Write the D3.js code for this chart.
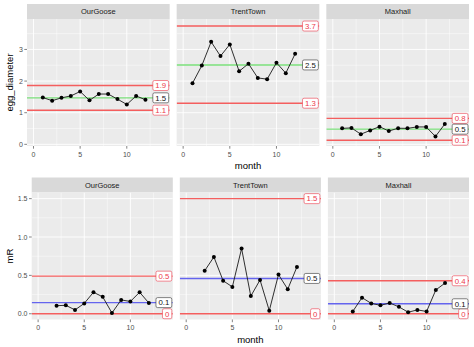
<!DOCTYPE html>
<html>
<head>
<meta charset="utf-8">
<script src="https://cdn.jsdelivr.net/npm/d3@7"></script>
<style>
  body { margin: 0; background: #fff; }
  svg { display: block; }
  text { font-family: "Liberation Sans", Arial, sans-serif; }
</style>
</head>
<body>
<svg id="chart" width="474" height="347"></svg>
<script>
// ---- data ----
const facets = ["OurGoose", "TrentTown", "Maxhall"];
const monthsI = [1, 2, 3, 4, 5, 6, 7, 8, 9, 10, 11, 12];
const monthsMR = [2, 3, 4, 5, 6, 7, 8, 9, 10, 11, 12];
const xTicks = [0, 5, 10];

// individual egg diameters per month
const eggOurGoose = [1.48, 1.38, 1.47, 1.53, 1.67, 1.39, 1.59, 1.59, 1.43, 1.26, 1.53, 1.41];
const eggTrentTown = [1.93, 2.49, 3.24, 2.79, 3.16, 2.31, 2.55, 2.10, 2.06, 2.58, 2.25, 2.86];
const eggMaxhall = [0.505, 0.52, 0.32, 0.44, 0.56, 0.42, 0.51, 0.505, 0.55, 0.55, 0.25, 0.64];
const eggCenter = [1.47, 2.51, 0.48];
const eggUCL = [1.86, 3.74, 0.82];
const eggLCL = [1.08, 1.30, 0.13];
const eggTicks = [0, 1, 2, 3];

// moving ranges per month
const mrOurGoose = [0.105, 0.11, 0.05, 0.135, 0.28, 0.22, 0.01, 0.18, 0.16, 0.28, 0.14];
const mrTrentTown = [0.56, 0.74, 0.43, 0.35, 0.85, 0.23, 0.44, 0.04, 0.51, 0.32, 0.61];
const mrMaxhall = [0.03, 0.21, 0.135, 0.11, 0.14, 0.09, 0.02, 0.05, 0.03, 0.31, 0.40];
const mrCenter = [0.145, 0.46, 0.13];
const mrUCL = [0.49, 1.50, 0.43];
const mrLCL = [0, 0, 0];
const mrTicks = [0, 0.5, 1.0, 1.5];

// ---- layout / style ----
const gap = 7;
const stripH = 15;
const panelH = 127;
const limitColor = "#F45E5E";
const limitText = "#EC3A4C";

const rows = [
  {
    top: 0, panelLeft: 27, panelRight: 469,
    series: [eggOurGoose, eggTrentTown, eggMaxhall], months: monthsI,
    center: eggCenter, ucl: eggUCL, lcl: eggLCL,
    centerColor: "#7ADF7A", yDomain: [-0.0525, 3.9625],
    yTicks: eggTicks, yMinor: [0.5, 1.5, 2.5, 3.5],
    yFmt: d3.format("d"), yTitle: "egg_diameter"
  },
  {
    top: 173.5, panelLeft: 31.7, panelRight: 469,
    series: [mrOurGoose, mrTrentTown, mrMaxhall], months: monthsMR,
    center: mrCenter, ucl: mrUCL, lcl: mrLCL,
    centerColor: "#6464EE", yDomain: [-0.075, 1.58],
    yTicks: mrTicks, yMinor: [0.25, 0.75, 1.25],
    yFmt: d3.format(".1f"), yTitle: "mR"
  }
];
const xMinor = [2.5, 7.5, 12.5];

// R-style rounding to one decimal, without trailing zeros
const labelFmt = v => String(Math.round(v * 10) / 10);

const svg = d3.select("#chart");

rows.forEach((row, ri) => {
  const panelW = (row.panelRight - row.panelLeft - 2 * gap) / 3;
  const stripTop = row.top + 4;
  const panelTop = stripTop + stripH;
  const panelBottom = panelTop + panelH;

  const y = d3.scaleLinear().domain(row.yDomain).range([panelBottom, panelTop]);

  facets.forEach((name, fi) => {
    const left = row.panelLeft + fi * (panelW + gap);
    const right = left + panelW;
    const x = d3.scaleLinear().domain([-0.695, 14.595]).range([left, right]);

    const g = svg.append("g").attr("class", "facet");

    // strip
    g.append("rect").attr("class", "strip")
      .attr("x", left).attr("y", stripTop).attr("width", panelW).attr("height", stripH)
      .attr("fill", "#D9D9D9");
    g.append("text").attr("class", "strip-label")
      .attr("x", (left + right) / 2).attr("y", stripTop + stripH / 2 + 2.7)
      .attr("text-anchor", "middle").attr("font-size", 7.5).attr("fill", "#1A1A1A").text(name);

    // panel background and grid
    const clipId = `clip-${ri}-${fi}`;
    svg.append("clipPath").attr("id", clipId).append("rect")
      .attr("x", left).attr("y", panelTop).attr("width", panelW).attr("height", panelH);
    g.append("rect").attr("class", "panel")
      .attr("x", left).attr("y", panelTop).attr("width", panelW).attr("height", panelH)
      .attr("fill", "#EBEBEB");
    const pg = g.append("g").attr("clip-path", `url(#${clipId})`);
    pg.selectAll("line.ymin").data(row.yMinor).join("line").attr("class", "ymin")
      .attr("x1", left).attr("x2", right).attr("y1", d => y(d)).attr("y2", d => y(d))
      .attr("stroke", "#fff").attr("stroke-width", 0.45);
    pg.selectAll("line.xmin").data(xMinor).join("line").attr("class", "xmin")
      .attr("y1", panelTop).attr("y2", panelBottom).attr("x1", d => x(d)).attr("x2", d => x(d))
      .attr("stroke", "#fff").attr("stroke-width", 0.45);
    pg.selectAll("line.ymaj").data(row.yTicks).join("line").attr("class", "ymaj")
      .attr("x1", left).attr("x2", right).attr("y1", d => y(d)).attr("y2", d => y(d))
      .attr("stroke", "#fff").attr("stroke-width", 0.9);
    pg.selectAll("line.xmaj").data(xTicks).join("line").attr("class", "xmaj")
      .attr("y1", panelTop).attr("y2", panelBottom).attr("x1", d => x(d)).attr("x2", d => x(d))
      .attr("stroke", "#fff").attr("stroke-width", 0.9);

    // control limits and centre line
    const limits = [
      { v: row.ucl[fi], line: limitColor, text: limitText, border: limitText },
      { v: row.lcl[fi], line: limitColor, text: limitText, border: limitText },
      { v: row.center[fi], line: row.centerColor, text: "#111", border: "#333" }
    ];
    pg.selectAll("line.lim").data(limits).join("line").attr("class", "lim")
      .attr("x1", left).attr("x2", right).attr("y1", d => y(d.v)).attr("y2", d => y(d.v))
      .attr("stroke", d => d.line).attr("stroke-width", 1.4);

    // series
    const pts = row.months.map((m, i) => ({ m, v: row.series[fi][i] }));
    pg.append("path").attr("class", "series").datum(pts)
      .attr("d", d3.line().x(d => x(d.m)).y(d => y(d.v)))
      .attr("fill", "none").attr("stroke", "#1A1A1A").attr("stroke-width", 0.9);
    pg.selectAll("circle.pt").data(pts).join("circle").attr("class", "pt")
      .attr("cx", d => x(d.m)).attr("cy", d => y(d.v)).attr("r", 2).attr("fill", "#000");

    // value labels, right-aligned at the panel edge
    limits.forEach(d => {
      const lg = g.append("g").attr("class", "value-label");
      const t = lg.append("text").attr("font-size", 7.8).attr("fill", d.text)
        .attr("text-anchor", "end").attr("x", right - 3.5).attr("y", y(d.v) + 2.8)
        .text(labelFmt(d.v));
      const tw = t.node().getComputedTextLength();
      lg.insert("rect", "text")
        .attr("x", right - 1 - tw - 5).attr("y", y(d.v) - 5)
        .attr("width", tw + 5).attr("height", 10).attr("rx", 1.6)
        .attr("fill", "#fff").attr("stroke", d.border).attr("stroke-width", 0.6);
    });

    // x axis ticks
    g.selectAll("line.xt").data(xTicks).join("line").attr("class", "xt")
      .attr("x1", d => x(d)).attr("x2", d => x(d)).attr("y1", panelBottom).attr("y2", panelBottom + 2.7)
      .attr("stroke", "#333").attr("stroke-width", 0.6);
    g.selectAll("text.xl").data(xTicks).join("text").attr("class", "xl")
      .attr("x", d => x(d)).attr("y", panelBottom + 10.5).attr("text-anchor", "middle")
      .attr("font-size", 7).attr("fill", "#4D4D4D").text(d => d);

    // y axis on the first facet only
    if (fi === 0) {
      g.selectAll("line.yt").data(row.yTicks).join("line").attr("class", "yt")
        .attr("x1", left - 2.7).attr("x2", left).attr("y1", d => y(d)).attr("y2", d => y(d))
        .attr("stroke", "#333").attr("stroke-width", 0.6);
      g.selectAll("text.yl").data(row.yTicks).join("text").attr("class", "yl")
        .attr("x", left - 4.2).attr("y", d => y(d) + 2.5).attr("text-anchor", "end")
        .attr("font-size", 7).attr("fill", "#4D4D4D").text(d => row.yFmt(d));
    }
  });

  // axis titles
  svg.append("text").attr("x", (row.panelLeft + row.panelRight) / 2).attr("y", panelBottom + 23)
    .attr("text-anchor", "middle").attr("font-size", 9.5).attr("fill", "#000").text("month");
  const cy = (panelTop + panelBottom) / 2;
  svg.append("text").attr("transform", `translate(13,${cy}) rotate(-90)`)
    .attr("text-anchor", "middle").attr("font-size", 9.5).attr("fill", "#000").text(row.yTitle);
});
</script>
</body>
</html>
